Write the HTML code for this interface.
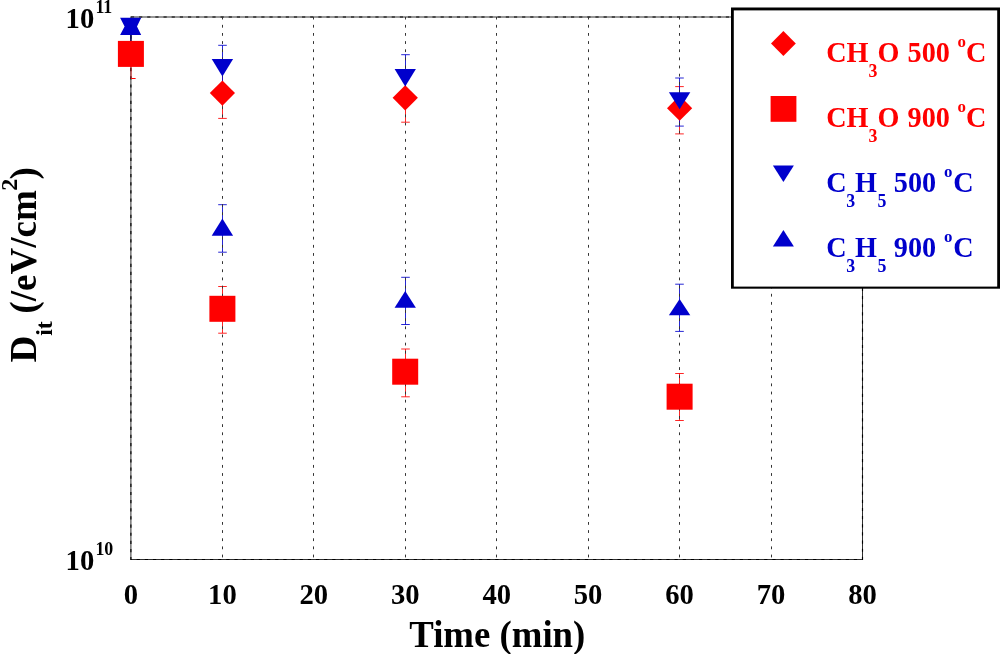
<!DOCTYPE html>
<html><head><meta charset="utf-8"><title>Dit vs Time</title>
<style>html,body{margin:0;padding:0;background:#fff}svg{display:block}text{font-family:"Liberation Serif",serif;font-weight:bold}</style>
</head><body>
<svg width="1000" height="654" viewBox="0 0 1000 654">
<rect x="0" y="0" width="1000" height="654" fill="#fff"/>
<rect x="130.9" y="17.0" width="731.6" height="542.5" fill="none" stroke="#303030" stroke-width="1"/>
<rect x="130.9" y="17.0" width="731.6" height="542.5" fill="none" stroke="#000" stroke-width="1.15" stroke-dasharray="3.2 4.95"/>
<clipPath id="ax"><rect x="130.9" y="17.0" width="731.6" height="542.5"/></clipPath>
<line x1="131.1" y1="60" x2="131.1" y2="78.5" stroke="#ff0000" stroke-width="1.2" stroke-opacity="0.55"/>
<line x1="131.1" y1="78.5" x2="135.6" y2="78.5" stroke="#ff0000" stroke-width="1"/>
<g stroke="#ff0000" stroke-width="1" stroke-opacity="0.85" fill="none">
<line x1="222.5" y1="68.5" x2="222.5" y2="118.4"/>
<line x1="218.2" y1="68.5" x2="226.8" y2="68.5"/>
<line x1="218.2" y1="118.4" x2="226.8" y2="118.4"/>
</g>
<g stroke="#0000cc" stroke-width="1" stroke-opacity="0.85" fill="none">
<line x1="222.5" y1="45.3" x2="222.5" y2="90"/>
<line x1="218.2" y1="45.3" x2="226.8" y2="45.3"/>
<line x1="218.2" y1="90" x2="226.8" y2="90"/>
</g>
<g stroke="#0000cc" stroke-width="1" stroke-opacity="0.85" fill="none">
<line x1="222.5" y1="204.7" x2="222.5" y2="252.2"/>
<line x1="218.2" y1="204.7" x2="226.8" y2="204.7"/>
<line x1="218.2" y1="252.2" x2="226.8" y2="252.2"/>
</g>
<g stroke="#ff0000" stroke-width="1" stroke-opacity="0.85" fill="none">
<line x1="222.5" y1="286.5" x2="222.5" y2="333.2"/>
<line x1="218.2" y1="286.5" x2="226.8" y2="286.5"/>
<line x1="218.2" y1="333.2" x2="226.8" y2="333.2"/>
</g>
<g stroke="#ff0000" stroke-width="1" stroke-opacity="0.85" fill="none">
<line x1="405.5" y1="73" x2="405.5" y2="122.2"/>
<line x1="401.2" y1="73" x2="409.8" y2="73"/>
<line x1="401.2" y1="122.2" x2="409.8" y2="122.2"/>
</g>
<g stroke="#0000cc" stroke-width="1" stroke-opacity="0.85" fill="none">
<line x1="405.5" y1="54.7" x2="405.5" y2="100"/>
<line x1="401.2" y1="54.7" x2="409.8" y2="54.7"/>
<line x1="401.2" y1="100" x2="409.8" y2="100"/>
</g>
<g stroke="#0000cc" stroke-width="1" stroke-opacity="0.85" fill="none">
<line x1="405.5" y1="277.3" x2="405.5" y2="324.5"/>
<line x1="401.2" y1="277.3" x2="409.8" y2="277.3"/>
<line x1="401.2" y1="324.5" x2="409.8" y2="324.5"/>
</g>
<g stroke="#ff0000" stroke-width="1" stroke-opacity="0.85" fill="none">
<line x1="405.5" y1="349" x2="405.5" y2="396.8"/>
<line x1="401.2" y1="349" x2="409.8" y2="349"/>
<line x1="401.2" y1="396.8" x2="409.8" y2="396.8"/>
</g>
<g stroke="#ff0000" stroke-width="1" stroke-opacity="0.85" fill="none">
<line x1="679.5" y1="86.6" x2="679.5" y2="133.9"/>
<line x1="675.2" y1="86.6" x2="683.8" y2="86.6"/>
<line x1="675.2" y1="133.9" x2="683.8" y2="133.9"/>
</g>
<g stroke="#0000cc" stroke-width="1" stroke-opacity="0.85" fill="none">
<line x1="679.5" y1="78" x2="679.5" y2="126.1"/>
<line x1="675.2" y1="78" x2="683.8" y2="78"/>
<line x1="675.2" y1="126.1" x2="683.8" y2="126.1"/>
</g>
<g stroke="#0000cc" stroke-width="1" stroke-opacity="0.85" fill="none">
<line x1="679.5" y1="284.2" x2="679.5" y2="331.4"/>
<line x1="675.2" y1="284.2" x2="683.8" y2="284.2"/>
<line x1="675.2" y1="331.4" x2="683.8" y2="331.4"/>
</g>
<g stroke="#ff0000" stroke-width="1" stroke-opacity="0.85" fill="none">
<line x1="679.5" y1="373.5" x2="679.5" y2="420.5"/>
<line x1="675.2" y1="373.5" x2="683.8" y2="373.5"/>
<line x1="675.2" y1="420.5" x2="683.8" y2="420.5"/>
</g>
<g stroke="#333" stroke-width="1" stroke-dasharray="2.8 5.35" stroke-dashoffset="0.3" fill="none">
<line x1="222.5" y1="17.0" x2="222.5" y2="559.5"/>
<line x1="313.5" y1="17.0" x2="313.5" y2="559.5"/>
<line x1="405.5" y1="17.0" x2="405.5" y2="559.5"/>
<line x1="496.5" y1="17.0" x2="496.5" y2="559.5"/>
<line x1="588.5" y1="17.0" x2="588.5" y2="559.5"/>
<line x1="679.5" y1="17.0" x2="679.5" y2="559.5"/>
<line x1="771.5" y1="17.0" x2="771.5" y2="559.5"/>
</g>
<line x1="130.9" y1="35" x2="130.9" y2="41" stroke="#101060" stroke-width="1.6"/>
<polygon points="222.4,80.5 235.0,93.1 222.4,105.7 209.8,93.1" fill="#ff0000"/>
<polygon points="405.2,85.2 417.9,97.8 405.2,110.4 392.6,97.8" fill="#ff0000"/>
<polygon points="679.6,95.6 692.2,108.2 679.6,120.8 667.0,108.2" fill="#ff0000"/>
<rect x="117.9" y="40.9" width="26" height="26" fill="#ff0000"/>
<rect x="209.4" y="295.8" width="26" height="26" fill="#ff0000"/>
<rect x="392.2" y="358.7" width="26" height="26" fill="#ff0000"/>
<rect x="666.6" y="383.7" width="26" height="26" fill="#ff0000"/>
<polygon points="120.1,17.8 141.2,17.8 137,26.4 141.2,35 120.1,35 124.6,26.4" fill="#0000cc"/>
<polygon points="211.7,59.0 233.1,59.0 222.4,76.6" fill="#0000cc"/>
<polygon points="394.6,69.0 415.9,69.0 405.2,86.6" fill="#0000cc"/>
<polygon points="668.9,92.3 690.3,92.3 679.6,109.3" fill="#0000cc"/>
<polygon points="211.7,235.8 233.1,235.8 222.4,218.4" fill="#0000cc"/>
<polygon points="394.6,307.7 415.9,307.7 405.2,291.0" fill="#0000cc"/>
<polygon points="668.9,315.3 690.3,315.3 679.6,299.0" fill="#0000cc"/>
<text transform="translate(130.9,604.4) scale(0.955,1)" font-size="30" text-anchor="middle" fill="#000">0</text>
<text transform="translate(222.4,604.4) scale(0.955,1)" font-size="30" text-anchor="middle" fill="#000">10</text>
<text transform="translate(313.8,604.4) scale(0.955,1)" font-size="30" text-anchor="middle" fill="#000">20</text>
<text transform="translate(405.2,604.4) scale(0.955,1)" font-size="30" text-anchor="middle" fill="#000">30</text>
<text transform="translate(496.7,604.4) scale(0.955,1)" font-size="30" text-anchor="middle" fill="#000">40</text>
<text transform="translate(588.1,604.4) scale(0.955,1)" font-size="30" text-anchor="middle" fill="#000">50</text>
<text transform="translate(679.6,604.4) scale(0.955,1)" font-size="30" text-anchor="middle" fill="#000">60</text>
<text transform="translate(771.0,604.4) scale(0.955,1)" font-size="30" text-anchor="middle" fill="#000">70</text>
<text transform="translate(862.5,604.4) scale(0.955,1)" font-size="30" text-anchor="middle" fill="#000">80</text>
<text transform="translate(94.2,27.8) scale(0.955,1)" font-size="30" text-anchor="end" fill="#000">10</text>
<text transform="translate(95.4,13.1) scale(1,1)" font-size="17.9" fill="#000">11</text>
<text transform="translate(94.2,569.7) scale(0.955,1)" font-size="30" text-anchor="end" fill="#000">10</text>
<text transform="translate(95.4,554.8) scale(1,1)" font-size="17.9" fill="#000">10</text>
<text x="497.3" y="647.0" font-size="37" text-anchor="middle" textLength="176" lengthAdjust="spacingAndGlyphs" fill="#000">Time (min)</text>
<g transform="translate(35.5,362.5) rotate(-90)">
<text x="0" y="0" font-size="37" fill="#000">D</text>
<text x="26.7" y="16.5" font-size="24" fill="#000">it</text>
<text x="49" y="0" font-size="37" fill="#000">(/eV/cm</text>
<text x="171.8" y="-19" font-size="24" fill="#000">2</text>
<text x="183" y="0" font-size="37" fill="#000">)</text>
</g>
<rect x="731" y="7.5" width="269" height="281.2" fill="#000"/>
<rect x="733.8" y="10.4" width="263.4" height="276.2" fill="#fff"/>
<polygon points="783.4,31.1 795.8,43.5 783.4,55.9 771.0,43.5" fill="#ff0000"/>
<rect x="770.6" y="96.0" width="25.8" height="25.8" fill="#ff0000"/>
<polygon points="772.9,165.4 793.9,165.4 783.4,181.9" fill="#0000cc"/>
<polygon points="772.9,246.4 793.9,246.4 783.4,229.9" fill="#0000cc"/>
<text transform="translate(826.2,62.0) scale(0.96,1)" font-size="29.4" fill="#ff0000">CH</text>
<text transform="translate(868.6,76.6) scale(0.96,1)" font-size="18.6" fill="#ff0000">3</text>
<text transform="translate(877.6,62.0) scale(0.96,1)" font-size="29.4" fill="#ff0000">O</text>
<text transform="translate(907.6,62.0) scale(0.96,1)" font-size="29.4" fill="#ff0000">500</text>
<text transform="translate(957.6,47.0) scale(0.96,1)" font-size="17.6" fill="#ff0000">o</text>
<text transform="translate(966.0,62.0) scale(0.96,1)" font-size="29.4" fill="#ff0000">C</text>
<text transform="translate(826.2,127.0) scale(0.96,1)" font-size="29.4" fill="#ff0000">CH</text>
<text transform="translate(868.6,141.6) scale(0.96,1)" font-size="18.6" fill="#ff0000">3</text>
<text transform="translate(877.6,127.0) scale(0.96,1)" font-size="29.4" fill="#ff0000">O</text>
<text transform="translate(907.6,127.0) scale(0.96,1)" font-size="29.4" fill="#ff0000">900</text>
<text transform="translate(957.6,112.0) scale(0.96,1)" font-size="17.6" fill="#ff0000">o</text>
<text transform="translate(966.0,127.0) scale(0.96,1)" font-size="29.4" fill="#ff0000">C</text>
<text transform="translate(826.2,192.0) scale(0.96,1)" font-size="29.4" fill="#0000cc">C</text>
<text transform="translate(846.2,206.6) scale(0.96,1)" font-size="18.6" fill="#0000cc">3</text>
<text transform="translate(855.0,192.0) scale(0.96,1)" font-size="29.4" fill="#0000cc">H</text>
<text transform="translate(877.6,206.6) scale(0.96,1)" font-size="18.6" fill="#0000cc">5</text>
<text transform="translate(893.8,192.0) scale(0.96,1)" font-size="29.4" fill="#0000cc">500</text>
<text transform="translate(944.0,177.0) scale(0.96,1)" font-size="17.6" fill="#0000cc">o</text>
<text transform="translate(953.3,192.0) scale(0.96,1)" font-size="29.4" fill="#0000cc">C</text>
<text transform="translate(826.2,257.0) scale(0.96,1)" font-size="29.4" fill="#0000cc">C</text>
<text transform="translate(846.2,271.6) scale(0.96,1)" font-size="18.6" fill="#0000cc">3</text>
<text transform="translate(855.0,257.0) scale(0.96,1)" font-size="29.4" fill="#0000cc">H</text>
<text transform="translate(877.6,271.6) scale(0.96,1)" font-size="18.6" fill="#0000cc">5</text>
<text transform="translate(893.8,257.0) scale(0.96,1)" font-size="29.4" fill="#0000cc">900</text>
<text transform="translate(944.0,242.0) scale(0.96,1)" font-size="17.6" fill="#0000cc">o</text>
<text transform="translate(953.3,257.0) scale(0.96,1)" font-size="29.4" fill="#0000cc">C</text>
</svg></body></html>
